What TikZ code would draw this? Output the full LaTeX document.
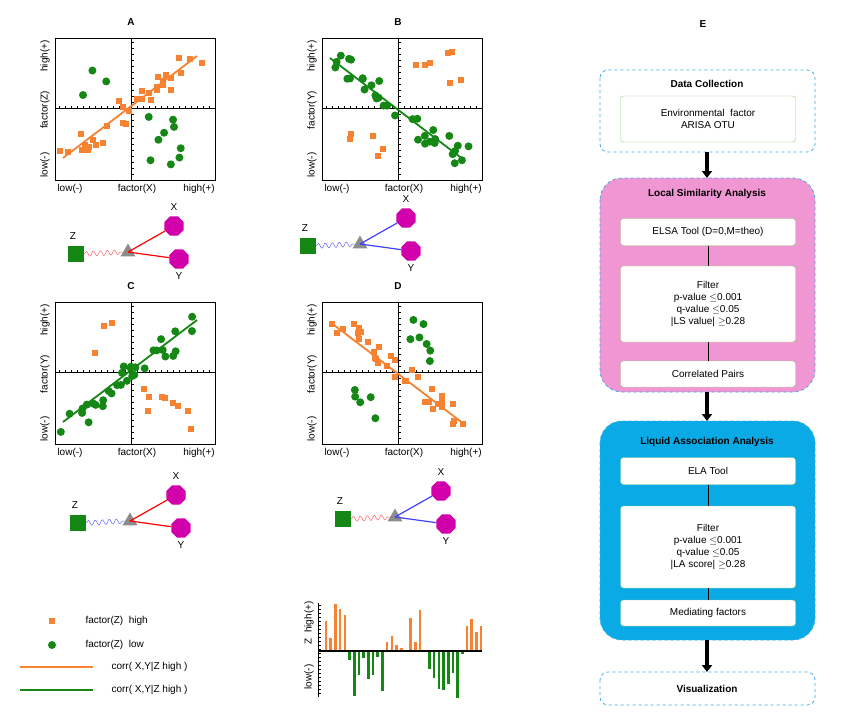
\documentclass[tikz,border=0pt]{standalone}
\usepackage{fontspec}
\setmainfont{Liberation Sans}
\usetikzlibrary{shapes.geometric,decorations.pathmorphing,arrows.meta}
\definecolor{org}{RGB}{246,130,50}
\definecolor{grn}{RGB}{20,135,20}
\definecolor{mag}{RGB}{210,0,170}
\definecolor{pinkbg}{RGB}{240,150,210}
\definecolor{bluebg}{RGB}{10,170,230}
\definecolor{dashc}{RGB}{60,170,230}
\definecolor{ibox}{RGB}{150,210,120}
\tikzset{
 lab/.style={font=\fontsize{10}{11}\selectfont},
 ttl/.style={font=\bfseries\fontsize{10}{11}\selectfont},
 sq/.style={fill=org,draw=none,minimum size=6pt,inner sep=0},
 dot/.style={fill=grn,draw=none,circle,minimum size=8pt,inner sep=0},
 zsq/.style={fill=grn,draw=none,minimum size=16pt,inner sep=0},
 tri/.style={fill=gray!90,regular polygon,regular polygon sides=3,minimum size=17pt,inner sep=0},
 oct/.style={fill=mag,regular polygon,regular polygon sides=8,minimum size=21pt,inner sep=0},
 wave/.style={decorate,decoration={snake,amplitude=2.5pt,segment length=7pt}},
 ib/.style={draw=ibox,fill=white,rounded corners=3pt,minimum width=175pt,align=center,font=\fontsize{10}{12}\selectfont},
 dbox/.style={draw=dashc,dashed,rounded corners=8pt,thick},
 big/.style={-{Triangle[length=7pt,width=10pt]},line width=4pt},
}
\newcommand{\panel}[7]{% cx cy title ylab diagstyle otherstyle sign
 \begin{scope}[shift={(#1,#2)}]
  \draw[line width=0.8pt] (-76,-70) rectangle (84,72);
  \draw[line width=0.8pt] (-76,0) -- (84,0) (0,-70) -- (0,72);
  \foreach \i in {-72,-66,...,80} \draw (\i,0) -- (\i,-2.5);
  \foreach \i in {-66,-60,...,70} \draw (0,\i) -- (2.5,\i);
  \node[ttl] at (0,-86) {#3};
  \node[lab] at (-61,81) {low(-)};
  \node[lab] at (6,81) {factor(X)};
  \node[lab] at (68,81) {high(+)};
  \node[lab,rotate=90] at (-86,57) {low(-)};
  \node[lab,rotate=90] at (-86,2) {#4};
  \node[lab,rotate=90] at (-86,-52) {high(+)};
  \foreach \k in {1,...,34}{
   \pgfmathsetmacro{\t}{rnd*1.8-0.9}
   \pgfmathsetmacro{\px}{\t*72+rand*9}
   \pgfmathsetmacro{\py}{-#7*(\t*56)+rand*12}
   \node[#5] at (\px,\py) {};}
  \foreach \k in {1,...,12}{
   \pgfmathsetmacro{\s}{(rnd<0.5)?1:-1}
   \pgfmathsetmacro{\px}{\s*(12+rnd*55)}
   \pgfmathsetmacro{\py}{\s*#7*(8+rnd*50)}
   \node[#6] at (\px,\py) {};}
  \draw[line width=1.8pt,color=\diagcol] (-68,#7*50) -- (66,-#7*52);
 \end{scope}}
\newcommand{\netw}[5]{% x y wavecol linecol name
 \node[zsq] (#5z) at (#1,#2) {};
 \node[lab] at (#1-3,#2-18) {Z};
 \node[tri] (#5t) at (#1+52,#2-2) {};
 \node[oct] (#5x) at (#1+98,#2-28) {};
 \node[oct] (#5y) at (#1+103,#2+5) {};
 \node[lab] at (#1+98,#2-47) {X};
 \node[lab] at (#1+103,#2+22) {Y};
 \draw[wave,#3] (#5z.east) -- (#5t.west);
 \draw[#4,line width=1.2pt] (#5t.center) -- (#5x);
 \draw[#4,line width=1.2pt] (#5t.center) -- (#5y);}
\begin{document}
\begin{tikzpicture}[x=1pt,y=-1pt]
\useasboundingbox (0,0) rectangle (866,725);
\fill[white] (0,0) rectangle (866,725);
\pgfmathsetseed{7}
\def\diagcol{org}
\panel{131}{108}{A}{factor(Z)}{sq}{dot}{1}
\def\diagcol{grn}
\panel{398}{108}{B}{factor(Y)}{dot}{sq}{-1}
\def\diagcol{grn}
\panel{131}{372}{C}{factor(Y)}{dot}{sq}{1}
\def\diagcol{org}
\panel{398}{372}{D}{factor(Y)}{sq}{dot}{-1}
\netw{76}{254}{red!70}{red}{a}
\netw{308}{246}{blue!70}{blue!75}{b}
\netw{78}{523}{blue!70}{red}{c}
\netw{343}{519}{red!70}{blue!75}{d}
% legend
\node[sq] (l1) at (52,621) {};
\node[lab,anchor=west] at (82,621) {factor(Z)\ \ high};
\node[dot] (l2) at (52,645) {};
\node[lab,anchor=west] at (82,645) {factor(Z)\ \ low};
\coordinate (l3a) at (20,667); \coordinate (l3b) at (93,667);
\draw[org,line width=1.8pt] (l3a) -- (l3b);
\node[lab,anchor=west] at (108,667) {corr( X,Y|Z high )};
\coordinate (l4a) at (20,690); \coordinate (l4b) at (93,690);
\draw[grn,line width=1.8pt] (l4a) -- (l4b);
\node[lab,anchor=west] at (108,690) {corr( X,Y|Z high )};
% bar chart
\begin{scope}[shift={(318,651)}]
 \draw[line width=0.8pt] (0,-48) -- (0,46);
 \foreach \i in {-46,-42,...,44} \draw (0,\i) -- (3,\i);
 \node[lab,rotate=90] at (-9,-28) {Z\ \ high(+)};
 \node[lab,rotate=90] at (-9,26) {low(-)};
 \foreach [count=\k] \h in {30,13,47,42,36,-9,-45,-24,-7,-28,-24,-6,-40,9,15,6,3,0,33,9,41,0,-18,-27,-38,-39,-33,-22,-47,-3,25,32,19,25}{
  \pgfmathsetmacro{\xx}{2+\k*4.7}
  \pgfmathsetmacro{\cc}{\h>0?1:0}
  \ifdim\cc pt>0.5pt \fill[org] (\xx,0) rectangle (\xx+2.6,-\h);
  \else \fill[grn] (\xx,0) rectangle (\xx+2.6,-\h); \fi}
 \draw[line width=1.5pt] (0,0) -- (164,0);
\end{scope}
% panel E
\node[ttl] at (703,24) {E};
\draw[dbox] (600,70) rectangle (815,152);
\node[ttl] (dc) at (707,84) {Data Collection};
\node[ib,minimum height=46pt] (env) at (708,119) {Environmental\ \ factor\\ARISA OTU};
\fill[pinkbg,rounded corners=22pt] (600,178) rectangle (815,392);
\draw[draw=dashc,thick,dashed,rounded corners=22pt] (600,178) rectangle (815,392);
\node[ttl] at (707,194) {Local Similarity Analysis};
\node[ib,minimum height=27pt] (elsa) at (708,232) {ELSA Tool (D=0,M=theo)};
\node[ib,minimum height=76pt] (f1) at (708,304) {Filter\\p-value $\leq$0.001\\q-value $\leq$0.05\\|LS value| $\geq$0.28};
\node[ib,minimum height=26pt] (cp) at (708,374) {Correlated Pairs};
\fill[bluebg,rounded corners=22pt] (600,421) rectangle (815,640);
\draw[draw=dashc,thick,dashed,rounded corners=22pt] (600,421) rectangle (815,640);
\node[ttl] at (707,442) {Liquid Association Analysis};
\node[ib,minimum height=27pt] (ela) at (708,471) {ELA Tool};
\node[ib,minimum height=82pt] (f2) at (708,547) {Filter\\p-value $\leq$0.001\\q-value $\leq$0.05\\|LA score| $\geq$0.28};
\node[ib,minimum height=26pt] (mf) at (708,613) {Mediating factors};
\draw[dbox] (600,672) rectangle (815,705);
\node[ttl] (vis) at (707,689) {Visualization};
\draw (elsa) -- (f1); \draw (f1) -- (cp);
\draw (ela) -- (f2); \draw (f2) -- (mf);
\coordinate (a1s) at (707,152); \coordinate (a1e) at (707,178);
\coordinate (a2s) at (707,392); \coordinate (a2e) at (707,421);
\coordinate (a3s) at (707,640); \coordinate (a3e) at (707,672);
\draw[big] (a1s) -- (a1e);
\draw[big] (a2s) -- (a2e);
\draw[big] (a3s) -- (a3e);
\end{tikzpicture}
\end{document}
